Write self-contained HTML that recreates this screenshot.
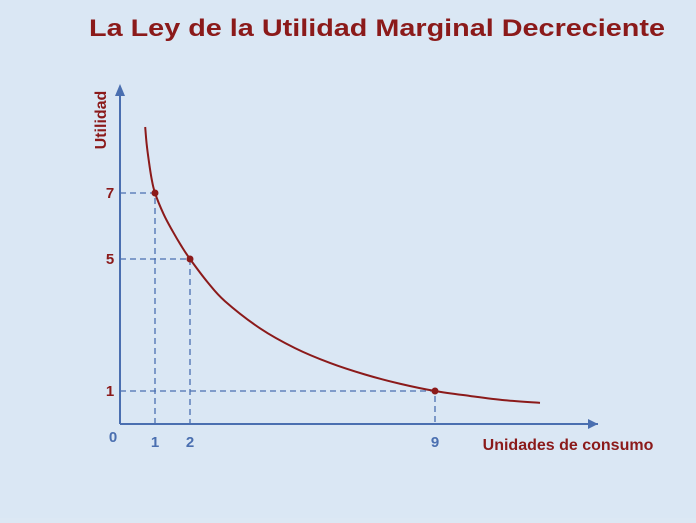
<!DOCTYPE html>
<html><head><meta charset="utf-8"><style>
html,body{margin:0;padding:0;}
body{width:696px;height:518px;background:#dce8f4;overflow:hidden;font-family:"Liberation Sans",sans-serif;}
</style></head><body>
<svg id="chart" width="696" height="518">
<rect width="696" height="518" fill="#dae7f4"/>
<text x="377" y="36" text-anchor="middle" font-size="24" fill="#8b1a1a" font-weight="bold" textLength="576" lengthAdjust="spacingAndGlyphs" font-family="Liberation Sans, sans-serif">La Ley de la Utilidad Marginal Decreciente</text>
<g id="plot"></g>
</svg>
<script>
const curveX=[0.72,0.76,0.82,0.9,1,1.25,1.5,1.75,2,2.5,3,4,5,6,7,8,9,10,11,12];
const curveY=[9,8.5,8.0,7.45,7,6.35,5.85,5.4,5,4.3,3.72,2.9,2.3,1.85,1.5,1.22,1,0.85,0.72,0.64];
const pointX=[1,2,9];
const pointY=[7,5,1];
const xTicks=[1,2,9];
const yTicks=[1,5,7];
const X=v=>120+v*35, Y=v=>424-v*33;
const g=document.getElementById('plot'),NS='http://www.w3.org/2000/svg';
function mk(t,a,p){const e=document.createElementNS(NS,t);for(const k in a)e.setAttribute(k,a[k]);(p||g).appendChild(e);return e;}
const blue='#4a6fb0',red='#8b1a1a';
let ax=mk('line',{x1:120,y1:424,x2:598,y2:424,stroke:blue,'stroke-width':2});


let ay=mk('line',{x1:120,y1:424,x2:120,y2:90,stroke:blue,'stroke-width':2});


let ah=mk('path',{d:'M598,424 l-10,-5 l0,10z',fill:blue});


let ah2=mk('path',{d:'M120,84 l-5,12 l10,0z',fill:blue});


pointX.forEach((px,i)=>{
 const py=pointY[i];
 let h=mk('polyline',{points:`120,${Y(py)} ${X(px)},${Y(py)} ${X(px)},424`,fill:'none',stroke:blue,'stroke-width':1.3,'stroke-dasharray':'6,4'});
 
 
});
const P=curveX.map((cx,i)=>[X(cx),Y(curveY[i])]);
let d='M'+P[0][0]+','+P[0][1];
for(let i=0;i<P.length-1;i++){
 const p0=P[Math.max(0,i-1)],p1=P[i],p2=P[i+1],p3=P[Math.min(P.length-1,i+2)];
 const c1=[p1[0]+(p2[0]-p0[0])/6,p1[1]+(p2[1]-p0[1])/6];
 const c2=[p2[0]-(p3[0]-p1[0])/6,p2[1]-(p3[1]-p1[1])/6];
 d+=`C${c1[0]},${c1[1]} ${c2[0]},${c2[1]} ${p2[0]},${p2[1]}`;
}
let c=mk('path',{d:d,fill:'none',stroke:red,'stroke-width':2});


pointX.forEach((px,i)=>{
 let p=mk('circle',{cx:X(px),cy:Y(pointY[i]),r:3.5,fill:red});
 
 
});
xTicks.forEach(t=>{
 let e=mk('text',{x:X(t),y:447,'text-anchor':'middle','font-size':15,'font-weight':'bold',fill:blue});e.textContent=t;
 
 
});
yTicks.forEach(t=>{
 let e=mk('text',{x:110,y:Y(t)+5,'text-anchor':'middle','font-size':15,'font-weight':'bold',fill:red});e.textContent=t;
 
 
});
let o=mk('text',{x:113,y:442,'text-anchor':'middle','font-size':15,'font-weight':'bold',fill:blue});o.textContent='0';


let xl=mk('text',{x:568,y:450,'text-anchor':'middle','font-size':16,'font-weight':'bold',fill:red});xl.textContent='Unidades de consumo';


let yl=mk('text',{x:0,y:0,'text-anchor':'middle','font-size':16,fill:red,'font-weight':'bold',transform:'translate(106,120) rotate(-90)'});yl.textContent='Utilidad';


</script>
</body></html>
